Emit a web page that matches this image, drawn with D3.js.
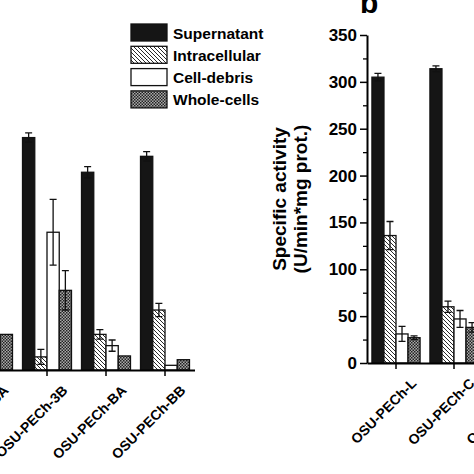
<!DOCTYPE html>
<html><head><meta charset="utf-8">
<script src="https://cdn.jsdelivr.net/npm/d3@7"></script>
<style>body{margin:0;background:#fff}svg{display:block;font-family:"Liberation Sans",Arial,sans-serif;font-weight:bold}</style>
</head><body><svg id="chart" width="474" height="474"></svg>
<script>
const series = ["Supernatant", "Intracellular", "Cell-debris", "Whole-cells"];
const groupsA = ["OSU-PECh-3A", "OSU-PECh-3B", "OSU-PECh-BA", "OSU-PECh-BB"];
const valuesA = [[0, 0, 0, 38], [248, 14, 147, 85], [211, 38, 26, 15], [228, 64, 5, 11]];
const errorsA = [[0, 0, 0, 0], [5, 8, 35, 21], [6, 5, 6, 0], [5, 7, 0, 0]];
const groupsB = ["OSU-PECh-L", "OSU-PECh-C", "OSU-PECh-S"];
const valuesB = [[305, 136, 31, 27], [314, 60, 47, 38], [300, 50, 40, 30]];
const errorsB = [[4, 15, 8, 2], [3, 6, 9, 5], [4, 6, 6, 4]];
const yTicks = [0, 50, 100, 150, 200, 250, 300, 350];

const svg = d3.select("#chart");
const defs = svg.append("defs");
const hatch = defs.append("pattern").attr("id", "hatch").attr("patternUnits", "userSpaceOnUse")
  .attr("width", 4).attr("height", 4);
hatch.append("rect").attr("width", 4).attr("height", 4).attr("fill", "#fff");
hatch.append("path").attr("d", "M-1,-1L5,5M3,-1L5,1M-1,3L1,5").attr("stroke", "#111").attr("stroke-width", 0.9);
const cross = defs.append("pattern").attr("id", "cross").attr("patternUnits", "userSpaceOnUse")
  .attr("width", 3).attr("height", 3);
cross.append("rect").attr("width", 3).attr("height", 3).attr("fill", "#aaa");
cross.append("rect").attr("width", 1.5).attr("height", 1.5).attr("fill", "#222");
cross.append("rect").attr("x", 1.5).attr("y", 1.5).attr("width", 1.5).attr("height", 1.5).attr("fill", "#222");
const fills = ["#151515", "url(#hatch)", "#fff", "url(#cross)"];

function panel(groups, values, errors, xRange, base, showAxis) {
  const y = d3.scaleLinear().domain([0, 350]).range([base, base - 328]);
  const x0 = d3.scaleBand().domain(groups).range(xRange).paddingInner(0.17).paddingOuter(0.085);
  const x1 = d3.scaleBand().domain(series).range([0, x0.bandwidth()]);
  const g = svg.append("g");
  groups.forEach((grp, i) => {
    series.forEach((s, j) => {
      const v = values[i][j];
      if (v <= 0) return;
      const bx = x0(grp) + x1(s);
      g.append("rect").attr("x", bx).attr("y", y(v)).attr("width", x1.bandwidth()).attr("height", base - y(v))
        .attr("fill", fills[j]).attr("stroke", "#111").attr("stroke-width", 1.3);
      const e = errors[i][j];
      if (e > 0) {
        const cx = bx + x1.bandwidth() / 2;
        g.append("path").attr("d", `M${cx},${y(v - e)}V${y(v + e)}M${cx - 3.5},${y(v + e)}H${cx + 3.5}M${cx - 3.5},${y(v - e)}H${cx + 3.5}`)
          .attr("stroke", "#111").attr("stroke-width", 1.3).attr("fill", "none");
      }
    });
  });
  const xa = g.append("g").attr("transform", `translate(0,${base})`)
    .call(d3.axisBottom(x0).tickSize(6).tickSizeOuter(0));
  xa.select(".domain").attr("stroke-width", 2);
  xa.selectAll(".tick line").attr("stroke-width", 1.5);
  xa.selectAll("text").attr("font-size", 14).attr("font-weight", "bold").attr("font-family", "Liberation Sans, Arial")
    .attr("text-anchor", "end").attr("transform", "translate(8,8) rotate(-45)").attr("dy", "0.7em").attr("dx", "0");
  if (showAxis) {
    const ya = g.append("g").attr("transform", `translate(${xRange[0]},0)`)
      .call(d3.axisLeft(y).tickValues(yTicks).tickSize(7).tickSizeOuter(0));
    ya.select(".domain").attr("stroke-width", 2);
    ya.selectAll(".tick line").attr("stroke-width", 1.5);
    ya.selectAll("text").attr("font-size", 17).attr("font-weight", "bold").attr("font-family", "Liberation Sans, Arial");
    g.append("g").attr("transform", `translate(${xRange[0]},0)`)
      .call(d3.axisLeft(y).tickValues(d3.range(25, 350, 50)).tickSize(4).tickFormat(""))
      .call(a => a.select(".domain").remove()).selectAll("line").attr("stroke-width", 1.3);
    const t = g.append("text").attr("transform", `translate(292,${(base - 164)}) rotate(-90)`)
      .attr("text-anchor", "middle").attr("font-size", 19);
    t.append("tspan").attr("x", 0).attr("dy", "-0.3em").text("Specific activity");
    t.append("tspan").attr("x", 0).attr("dy", "1.1em").text("(U/min*mg prot.)");
  }
}
panel(groupsA, valuesA, errorsA, [-41.5, 194.5], 370, false);
panel(groupsB, valuesB, errorsB, [367, 367 + 3 * 58], 363, true);

svg.append("text").attr("x", 360).attr("y", 13).attr("font-size", 30).text("b");

const leg = svg.append("g").attr("transform", "translate(131,24)");
series.forEach((s, j) => {
  leg.append("rect").attr("x", 0).attr("y", j * 22.3).attr("width", 36).attr("height", 17)
    .attr("fill", fills[j]).attr("stroke", "#111").attr("stroke-width", 1.3);
  leg.append("text").attr("x", 42).attr("y", j * 22.3 + 14.5).attr("font-size", 15.5).text(s);
});
</script></body></html>
